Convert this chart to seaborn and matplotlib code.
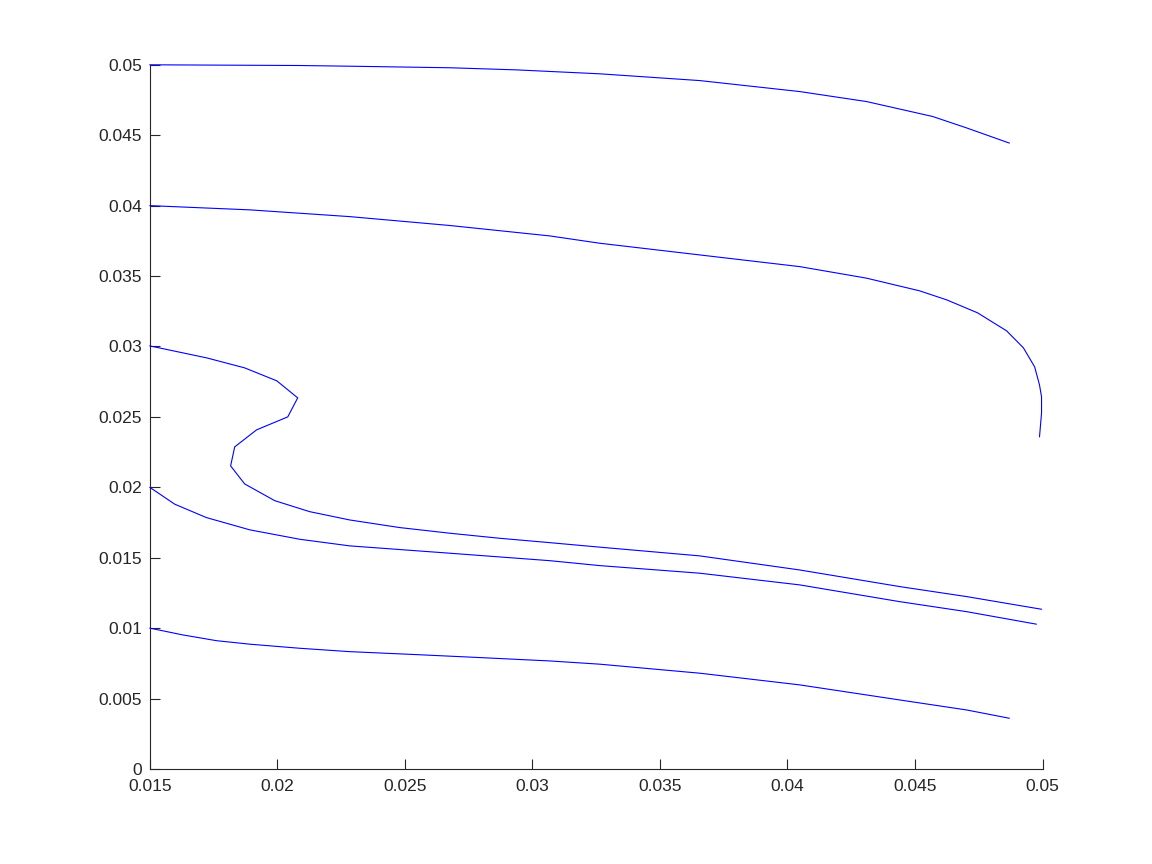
import numpy as np
import pandas as pd
import matplotlib
matplotlib.use("Agg")
import matplotlib.pyplot as plt
import seaborn as sns

# five curves
x1 = [0.015, 0.02088, 0.02284, 0.02676, 0.02937, 0.03264, 0.03656, 0.04048, 0.0431, 0.04569, 0.04702, 0.0487]
y1 = [0.0500, 0.04995, 0.0499, 0.04979, 0.04964, 0.04936, 0.04888, 0.0481, 0.04739, 0.04633, 0.04552, 0.04444]

x2 = [0.015, 0.01892, 0.02284, 0.02676, 0.03068, 0.03264, 0.03656, 0.04048, 0.0431, 0.04518, 0.04624,
      0.04745, 0.04859, 0.04925, 0.04969, 0.04988, 0.04996, 0.04996, 0.04988]
y2 = [0.0400, 0.0397, 0.03922, 0.03859, 0.03785, 0.03733, 0.0365, 0.03567, 0.03485, 0.03395, 0.03331,
      0.03239, 0.03111, 0.0299, 0.02855, 0.02727, 0.02642, 0.02528, 0.02358]

x3 = [0.015, 0.01723, 0.01872, 0.01998, 0.0208, 0.02041, 0.01919, 0.01833, 0.01817, 0.01872, 0.0199,
      0.02127, 0.02284, 0.0248, 0.02676, 0.02872, 0.03068, 0.03264, 0.03656, 0.04048, 0.0444, 0.04702,
      0.04996]
y3 = [0.03004, 0.02919, 0.02848, 0.02756, 0.02635, 0.025, 0.02408, 0.02287, 0.02152, 0.02024, 0.01905,
      0.01827, 0.01768, 0.01714, 0.01674, 0.01638, 0.01607, 0.01575, 0.01513, 0.01413, 0.01295, 0.01224,
      0.01134]

x4 = [0.015, 0.01598, 0.01722, 0.01892, 0.02088, 0.02284, 0.02676, 0.03068, 0.03264, 0.03656, 0.04048,
      0.0444, 0.04702, 0.04976]
y4 = [0.0200, 0.0188, 0.01785, 0.01698, 0.01631, 0.01584, 0.01532, 0.01479, 0.01444, 0.0139, 0.01307,
      0.01188, 0.01117, 0.01028]

x5 = [0.015, 0.01629, 0.01761, 0.01892, 0.02088, 0.02284, 0.02545, 0.02805, 0.03068, 0.03264, 0.03656,
      0.04048, 0.0444, 0.04702, 0.0487]
y5 = [0.0100, 0.00952, 0.00911, 0.00886, 0.00857, 0.00833, 0.00812, 0.0079, 0.00767, 0.00744, 0.0068,
      0.00597, 0.0049, 0.00419, 0.0036]

curves = [(x1, y1), (x2, y2), (x3, y3), (x4, y4), (x5, y5)]

sns.set_style("ticks")
plt.rcParams['font.family'] = ['Liberation Sans', 'DejaVu Sans']

fig = plt.figure(figsize=(11.52, 8.64), dpi=100)
ax = fig.add_axes([0.13, 0.11, 0.775, 0.815])

for xs, ys in curves:
    df = pd.DataFrame({'x': xs, 'y': ys})
    sns.lineplot(data=df, x='x', y='y', sort=False, estimator=None,
                 color='blue', linewidth=0.8, ax=ax, clip_on=False, zorder=3)

ax.set_xlim(0.015, 0.05)
ax.set_ylim(0, 0.05)
ax.set_xticks(np.arange(0.015, 0.0501, 0.005))
ax.set_yticks(np.arange(0, 0.0501, 0.005))
ax.set_xticklabels(['0.015', '0.02', '0.025', '0.03', '0.035', '0.04', '0.045', '0.05'])
ax.set_yticklabels(['0', '0.005', '0.01', '0.015', '0.02', '0.025', '0.03', '0.035', '0.04', '0.045', '0.05'])
ax.set_xlabel('')
ax.set_ylabel('')

sns.despine(ax=ax)
for s in ['left', 'bottom']:
    ax.spines[s].set_color('#262626')
    ax.spines[s].set_linewidth(0.8)
ax.tick_params(direction='in', length=7, width=0.8, colors='#262626',
               labelsize=12.5, labelcolor='#262626')
ax.tick_params(axis='x', pad=7.5)
ax.tick_params(axis='y', pad=5.5)

fig.savefig("out.png", dpi=100)
